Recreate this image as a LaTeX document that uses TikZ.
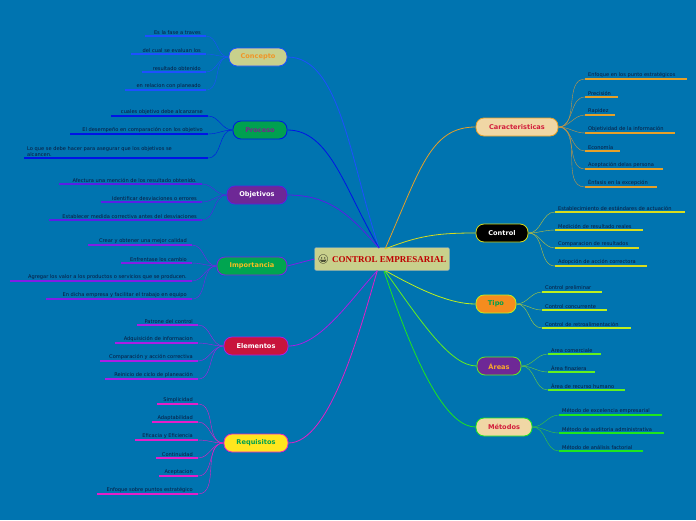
\documentclass[tikz,border=0pt]{standalone}
\usepackage{fontspec}
\setmainfont{DejaVu Sans}
\newfontfamily\emo{Noto Emoji}
\newfontfamily\rootf{Liberation Serif}
\begin{document}
\begin{tikzpicture}[x=1pt,y=-1pt,
 leaf/.style={font=\fontsize{5.1}{6.1}\selectfont,text={rgb,255:red,10;green,25;blue,60},inner sep=1pt},
 br/.style={rounded corners=8pt,minimum height=18pt,font=\bfseries\fontsize{6.6}{7}\selectfont,line width=0.8pt,inner xsep=6pt}]
\fill[fill={rgb,255:red,0;green,116;blue,176}] (0,0) rectangle (696,520);
\useasboundingbox (0,0) rectangle (696,520);
% colours
\definecolor{cC}{RGB}{30,80,255}\definecolor{cP}{RGB}{0,20,230}\definecolor{cO}{RGB}{90,30,230}
\definecolor{cI}{RGB}{130,30,230}\definecolor{cE}{RGB}{170,30,230}\definecolor{cR}{RGB}{230,30,200}
\definecolor{cCa}{RGB}{230,160,40}\definecolor{cCo}{RGB}{215,220,30}\definecolor{cT}{RGB}{190,240,30}
\definecolor{cA}{RGB}{100,240,30}\definecolor{cM}{RGB}{30,230,30}
% root
\node[fill={rgb,255:red,200;green,208;blue,140},draw={rgb,255:red,120;green,160;blue,200},rounded corners=2pt,minimum width=135pt,minimum height=23pt,inner sep=2pt] (root) at (382,259)
 {{\emo\fontsize{9}{9}\selectfont 😀} {\rootf\bfseries\fontsize{9}{9}\selectfont\color{red!75!black}CONTROL EMPRESARIAL}};
% branch nodes
\node[br,fill={rgb,255:red,200;green,208;blue,140},draw=cC,text={rgb,255:red,240;green,150;blue,40},minimum width=58pt] (con) at (258,57) {Concepto};
\node[br,fill={rgb,255:red,0;green,160;blue,80},draw=cP,text={rgb,255:red,120;green,40;blue,140},minimum width=54pt] (pro) at (260,130) {Proceso};
\node[br,fill={rgb,255:red,110;green,40;blue,150},draw=cO,text=white,minimum width=60pt] (obj) at (257,195) {Objetivos};
\node[br,fill={rgb,255:red,0;green,165;blue,80},draw=cI,text={rgb,255:red,250;green,190;blue,30},minimum width=70pt] (imp) at (252,266) {Importancia};
\node[br,fill={rgb,255:red,200;green,20;blue,60},draw=cE,text=white,minimum width=64pt] (ele) at (256,346) {Elementos};
\node[br,fill={rgb,255:red,255;green,230;blue,30},draw=cR,text={rgb,255:red,0;green,160;blue,80},minimum width=64pt] (req) at (256,443) {Requisitos};
\node[br,fill={rgb,255:red,240;green,215;blue,165},draw=cCa,text={rgb,255:red,210;green,30;blue,60},minimum width=82pt] (car) at (517,127) {Caracteristicas};
\node[br,fill=black,draw=cCo,text=white,minimum width=52pt] (ctl) at (502,233) {Control};
\node[br,fill={rgb,255:red,245;green,140;blue,30},draw=cT,text={rgb,255:red,0;green,160;blue,80},minimum width=40pt] (tip) at (496,304) {Tipo};
\node[br,fill={rgb,255:red,110;green,40;blue,150},draw=cA,text={rgb,255:red,250;green,170;blue,40},minimum width=44pt] (are) at (499,366) {Áreas};
\node[br,fill={rgb,255:red,240;green,215;blue,165},draw=cM,text={rgb,255:red,210;green,30;blue,60},minimum width=56pt] (met) at (504,427) {Métodos};
% main connectors
\coordinate (rl) at (379,248); \coordinate (rr) at (385,249);
\draw[cC,thick] (rl) .. controls (350,160) and (340,57) .. (con.east);
\draw[cP,thick] (rl) .. controls (345,190) and (330,130) .. (pro.east);
\draw[cO,thick] (rl) .. controls (350,215) and (330,195) .. (obj.east);
\draw[cI,thick] (root.west) -- (imp.east);
\draw[cE,thick] (root.south west) ++(63,0) coordinate (rb) .. controls (350,300) and (320,346) .. (ele.east);
\draw[cR,thick] (rb) .. controls (360,330) and (330,443) .. (req.east);
\draw[cCa,thick] (rr) .. controls (420,170) and (430,127) .. (car.west);
\draw[cCo,thick] (rr) .. controls (420,235) and (440,233) .. (ctl.west);
\draw[cT,thick] (386,271) .. controls (420,290) and (450,304) .. (tip.west);
\draw[cA,thick] (385,271) .. controls (420,320) and (450,366) .. (are.west);
\draw[cM,thick] (384,271) .. controls (420,380) and (450,427) .. (met.west);
% leaf macros: name,parent,xs,xe,y,text,colour
\newcommand\lleaf[7]{\node[leaf,anchor=south east] (#1) at (#4-4,#5) {#6};
 \coordinate (#1e) at (#4,#5); \draw[#7,line width=1.2pt] (#3,#5) -- (#1e);
 \draw[#7,thin] (#2.west) to[out=180,in=0] (#1e);}
\newcommand\rleaf[7]{\node[leaf,anchor=south west] (#1) at (#3+2,#5) {#6};
 \coordinate (#1s) at (#3,#5); \draw[#7,line width=1.2pt] (#1s) -- (#4,#5);
 \draw[#7!70!gray,thin] (#2.east) to[out=0,in=180] (#1s);}
\lleaf{a1}{con}{145}{206}{36}{Es la fase a traves}{cC}
\lleaf{a2}{con}{131}{206}{54}{del cual se evaluan los}{cC}
\lleaf{a3}{con}{142}{206}{72}{resultado obtenido}{cC}
\lleaf{a4}{con}{125}{206}{90}{en relacion con planeado}{cC}
\lleaf{b1}{pro}{111}{208}{116}{cuales objetivo debe alcanzarse}{cP}
\lleaf{b2}{pro}{70}{208}{134}{El desempeño en comparación con los objetivo}{cP}
\node[leaf,anchor=south west,align=left] (b3) at (26,158) {Lo que se debe hacer para asegurar que los objetivos se\\alcancen.};
\coordinate (b3e) at (208,158); \draw[cP,line width=1.2pt] (24,158) -- (b3e); \draw[cP,thin] (pro.west) to[out=180,in=0] (b3e);
\lleaf{c1}{obj}{59}{202}{184}{Afectura una mención de los resultado obtenido.}{cO}
\lleaf{c2}{obj}{101}{202}{202}{Identificar desviaciones o errores}{cO}
\lleaf{c3}{obj}{49}{202}{220}{Establecer medida correctiva antes del desviaciones}{cO}
\lleaf{d1}{imp}{88}{192}{245}{Crear y obtener una mejor calidad}{cI}
\lleaf{d2}{imp}{121}{192}{263}{Enfrentase los cambio}{cI}
\lleaf{d3}{imp}{10}{192}{281}{Agregar los valor a los productos o servicios que se producen.}{cI}
\lleaf{d4}{imp}{46}{192}{299}{En  dicha empresa y facilitar el trabajo en equipo}{cI}
\lleaf{e1}{ele}{137}{198}{325}{Patrone del control}{cE}
\lleaf{e2}{ele}{115}{198}{343}{Adquisición de informacion}{cE}
\lleaf{e3}{ele}{100}{198}{361}{Comparación y acción correctiva}{cE}
\lleaf{e4}{ele}{105}{198}{379}{Reinicio de ciclo de planeación}{cE}
\lleaf{f1}{req}{157}{198}{404}{Simplicidad}{cR}
\lleaf{f2}{req}{152}{198}{422}{Adaptabilidad}{cR}
\lleaf{f3}{req}{135}{198}{440}{Eficacia y Eficiencia}{cR}
\lleaf{f4}{req}{156}{198}{458}{Continuidad}{cR}
\lleaf{f5}{req}{159}{198}{476}{Aceptacion}{cR}
\lleaf{f6}{req}{97}{198}{494}{Enfoque sobre puntos estratégico}{cR}
\rleaf{g1}{car}{585}{687}{79}{Enfoque en los punto estratégicos}{cCa}
\rleaf{g2}{car}{585}{618}{97}{Precisión}{cCa}
\rleaf{g3}{car}{585}{615}{115}{Rapidez}{cCa}
\rleaf{g4}{car}{585}{675}{133}{Objetividad de la información}{cCa}
\rleaf{g5}{car}{585}{620}{151}{Economía}{cCa}
\rleaf{g6}{car}{585}{663}{169}{Aceptación delas persona}{cCa}
\rleaf{g7}{car}{585}{657}{187}{Énfasis en la excepción}{cCa}
\rleaf{h1}{ctl}{555}{685}{212}{Establecimiento de estándares de actuación}{cCo}
\rleaf{h2}{ctl}{555}{643}{230}{Medición de resultado reales}{cCo}
\rleaf{h3}{ctl}{555}{639}{248}{Comparacion de resultados}{cCo}
\rleaf{h4}{ctl}{555}{647}{266}{Adopción de acción correctora}{cCo}
\rleaf{i1}{tip}{542}{602}{292}{Control preliminar}{cT}
\rleaf{i2}{tip}{542}{607}{310}{Control concurrente}{cT}
\rleaf{i3}{tip}{542}{631}{328}{Control de retroalimentación}{cT}
\rleaf{j1}{are}{548}{601}{354}{Area comerciale}{cA}
\rleaf{j2}{are}{548}{595}{372}{Área finaziera}{cA}
\rleaf{j3}{are}{548}{625}{390}{Área de recurso humano}{cA}
\rleaf{k1}{met}{559}{662}{415}{Método de excelencia empresarial}{cM}
\rleaf{k2}{met}{559}{664}{433}{Método de auditoria administrativa}{cM}
\rleaf{k3}{met}{559}{643}{451}{Método de análisis factorial}{cM}
\end{tikzpicture}
\end{document}
